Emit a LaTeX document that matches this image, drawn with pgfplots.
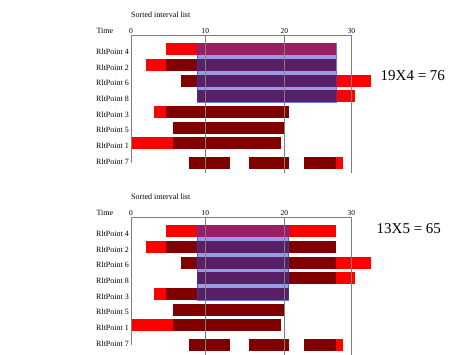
\documentclass[border=0pt]{standalone}
\usepackage{fontspec}
\setmainfont{Liberation Serif}
\usepackage{pgfplots}
\pgfplotsset{compat=1.18}
\usepackage{pgfplotstable}

\definecolor{barred}{RGB}{255,0,0}
\definecolor{bardark}{RGB}{128,0,0}
\definecolor{ovl}{RGB}{50,60,205}
\definecolor{gridc}{RGB}{125,125,125}

% red segments: x y (pairs separated by nan)
\pgfplotstableread{
x y
4.75 0
28.1 0
nan nan
2.05 1
4.75 1
nan nan
28.1 2
32.9 2
nan nan
28.1 3
30.7 3
nan nan
3.1 4
4.75 4
nan nan
0 6
5.8 6
nan nan
28.1 7.24
29.1 7.24
}\redsegs

% dark red segments
\pgfplotstableread{
x y
4.75 1
28.1 1
nan nan
6.9 2
28.1 2
nan nan
9.1 3
28.1 3
nan nan
4.75 4
21.6 4
nan nan
5.8 5
20.95 5
nan nan
5.8 6
20.5 6
nan nan
8.0 7.24
13.5 7.24
nan nan
16.1 7.24
21.6 7.24
nan nan
23.7 7.24
28.1 7.24
}\darksegs

\pgfplotsset{
  ganttstyle/.style={
    x=7.3pt, y=15.7pt, y dir=reverse,
    anchor=north west,
    xmin=0, xmax=30.2, ymin=-0.89, ymax=7.88,
    clip=false,
    axis line style={draw=none},
    xtick={10.2,21,30.2}, xticklabels={10,20,30},
    extra x ticks={0}, extra x tick labels={0},
    extra x tick style={grid=none},
    xticklabel pos=upper,
    xmajorgrids, grid style={gridc, line width=0.6pt},
    axis on top,
    major tick length=0pt,
    xticklabel style={anchor=base, inner sep=0pt, yshift=2pt,
      font=\fontsize{7.5}{9}\selectfont},
    /pgf/number format/assume math mode=true,
    ytick={0.02,1.02,2.02,3.02,4.02,5.02,6.02,7.02},
    yticklabels={RltPoint 4,RltPoint 2,RltPoint 6,RltPoint 8,RltPoint 3,RltPoint 5,RltPoint 1,RltPoint 7},
    yticklabel style={anchor=west, inner sep=0pt, xshift=-35pt, yshift=-2pt,
      font=\fontsize{8}{9.6}\selectfont},
    unbounded coords=jump,
  },
  segred/.style={draw=barred, line width=12pt, line cap=butt, mark=none},
  segdark/.style={draw=bardark, line width=12pt, line cap=butt, mark=none},
  ovlstyle/.style={fill=ovl, fill opacity=0.5, draw=ovl, draw opacity=0.7, line width=0.6pt},
}

\begin{document}
\begin{tikzpicture}
\useasboundingbox (0,0) rectangle (474pt,-355pt);

% ---------- top panel ----------
\node[anchor=base west, inner sep=0pt, font=\fontsize{8}{9.6}\selectfont] at (131pt,-17.3pt) {Sorted interval list};
\node[anchor=base west, inner sep=0pt, font=\fontsize{8}{9.6}\selectfont] at (96.3pt,-33.7pt) {Time};
\begin{axis}[ganttstyle, at={(131pt,-35.3pt)}]
  \addplot[segred] table {\redsegs};
  \addplot[segdark] table {\darksegs};
  \addplot[ovlstyle] coordinates {(9.1,-0.38) (28.1,-0.38) (28.1,3.38) (9.1,3.38)} -- cycle;
  \draw[gridc, line width=0.6pt] (axis cs:0,-0.89) -- (axis cs:30.2,-0.89);
  \draw[gridc, line width=0.6pt] (axis cs:0,-0.89) -- (axis cs:0,7.25);
\end{axis}
\node[anchor=base west, inner sep=0pt, font=\fontsize{15}{18}\selectfont] at (380.5pt,-80.5pt) {19X4 = 76};

% ---------- bottom panel ----------
\node[anchor=base west, inner sep=0pt, font=\fontsize{8}{9.6}\selectfont] at (131pt,-199.3pt) {Sorted interval list};
\node[anchor=base west, inner sep=0pt, font=\fontsize{8}{9.6}\selectfont] at (96.3pt,-215.7pt) {Time};
\begin{axis}[ganttstyle, at={(131pt,-217.3pt)}]
  \addplot[segred] table {\redsegs};
  \addplot[segdark] table {\darksegs};
  \addplot[ovlstyle] coordinates {(9.1,-0.38) (21.6,-0.38) (21.6,4.38) (9.1,4.38)} -- cycle;
  \draw[gridc, line width=0.6pt] (axis cs:0,-0.89) -- (axis cs:30.2,-0.89);
  \draw[gridc, line width=0.6pt] (axis cs:0,-0.89) -- (axis cs:0,7.25);
\end{axis}
\node[anchor=base west, inner sep=0pt, font=\fontsize{15}{18}\selectfont] at (376.5pt,-234pt) {13X5 = 65};
\end{tikzpicture}
\end{document}
